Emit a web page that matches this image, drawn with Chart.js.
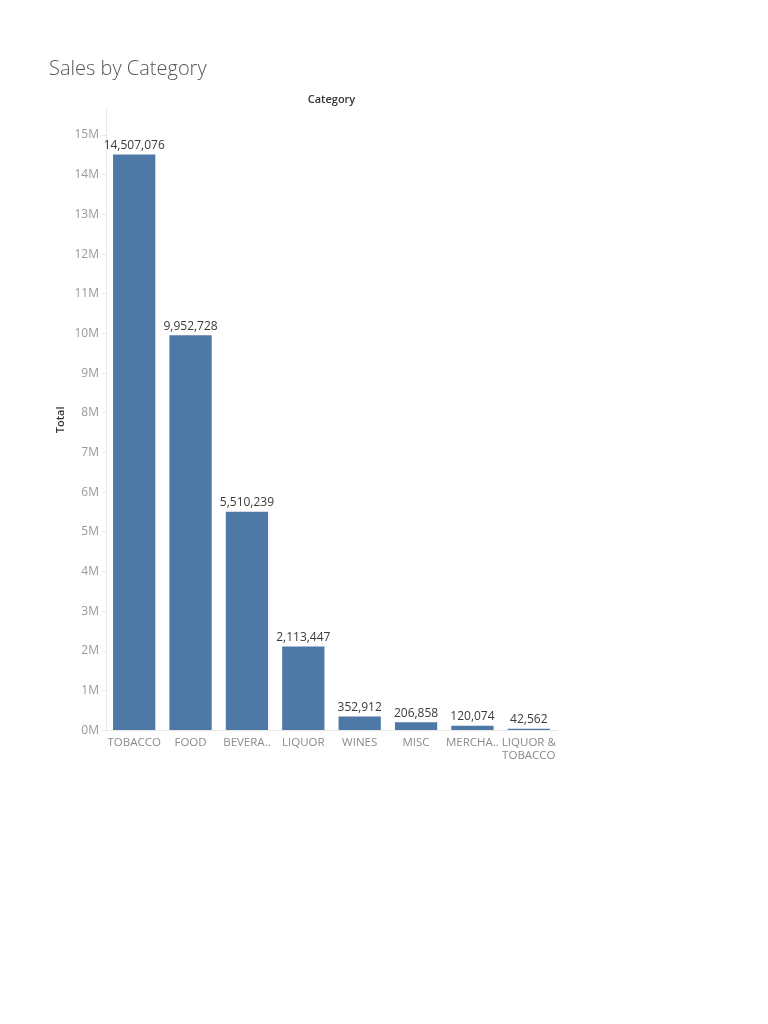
<!DOCTYPE html>
<html>
<head>
<meta charset="utf-8">
<script src="https://cdn.jsdelivr.net/npm/chart.js@4"></script>
<style>
html,body{margin:0;padding:0;background:#fff;}
#wrap{position:absolute;left:0;top:0;width:768px;height:1024px;}
</style>
</head>
<body>
<div id="wrap"><canvas id="c"></canvas></div>
<script>
const categories = ["TOBACCO", "FOOD", "BEVERA..", "LIQUOR", "WINES", "MISC", "MERCHA..", ["LIQUOR &", "TOBACCO"]];
const totals = [14507076, 9952728, 5510239, 2113447, 352912, 206858, 120074, 42562];
const yTickValues = [0, 1000000, 2000000, 3000000, 4000000, 5000000, 6000000, 7000000, 8000000, 9000000, 10000000, 11000000, 12000000, 13000000, 14000000, 15000000];
const titleText = "Sales by Category";
const xTitle = "Category";
const yTitle = "Total";

const valueLabels = {
  id: 'valueLabels',
  afterDatasetsDraw(chart) {
    const ctx = chart.ctx;
    const meta = chart.getDatasetMeta(0);
    ctx.save();
    ctx.font = '12px "Open Sans", sans-serif';
    ctx.fillStyle = '#3a3a3a';
    ctx.textAlign = 'center';
    ctx.textBaseline = 'bottom';
    meta.data.forEach((bar, i) => {
      ctx.fillText(totals[i].toLocaleString('en-US'), bar.x, bar.y - 3);
    });
    ctx.restore();
  }
};

new Chart(document.getElementById('c'), {
  type: 'bar',
  data: {
    labels: categories,
    datasets: [{
      data: totals,
      backgroundColor: '#4e79a7',
      borderWidth: 0,
      barPercentage: 0.75,
      categoryPercentage: 1.0
    }]
  },
  options: {
    responsive: true,
    maintainAspectRatio: false,
    animation: false,
    layout: { padding: { left: 49, right: 211, top: 57, bottom: 256 } },
    plugins: {
      legend: { display: false },
      tooltip: { enabled: false },
      title: {
        display: true,
        text: titleText,
        align: 'start',
        color: '#555',
        font: { family: '"Open Sans", sans-serif', size: 20, weight: '300' },
        padding: { top: 0, bottom: 12 }
      }
    },
    scales: {
      x: {
        position: 'bottom',
        grid: { display: false, drawTicks: false },
        border: { display: true, color: '#e8e8e8' },
        ticks: {
          color: '#8a8a8a',
          font: { family: '"Open Sans", sans-serif', size: 11.5 },
          padding: 5,
          maxRotation: 0,
          autoSkip: false
        }
      },
      x2: {
        position: 'top',
        type: 'category',
        labels: categories,
        grid: { display: false, drawTicks: false },
        border: { display: false },
        ticks: { display: false },
        title: {
          display: true,
          text: xTitle,
          color: '#333',
          font: { family: '"Open Sans", sans-serif', size: 11, weight: '600' },
          padding: { top: 0, bottom: 3 }
        }
      },
      y: {
        min: 0,
        max: 15650000,
        afterFit: (scale) => { scale.width = 57; },
        afterBuildTicks: (scale) => { scale.ticks = yTickValues.map(v => ({ value: v })); },
        grid: { drawOnChartArea: false, drawTicks: true, tickLength: 4, color: '#e8e8e8' },
        border: { display: true, color: '#e8e8e8' },
        ticks: {
          color: '#999',
          font: { family: '"Open Sans", sans-serif', size: 12 },
          padding: 3,
          callback: (v) => (v / 1000000) + 'M'
        },
        title: {
          display: true,
          text: yTitle,
          color: '#333',
          font: { family: '"Open Sans", sans-serif', size: 11, weight: '600' },
          padding: { top: 5, bottom: 0 }
        }
      }
    }
  },
  plugins: [valueLabels]
});
</script>
</body>
</html>
